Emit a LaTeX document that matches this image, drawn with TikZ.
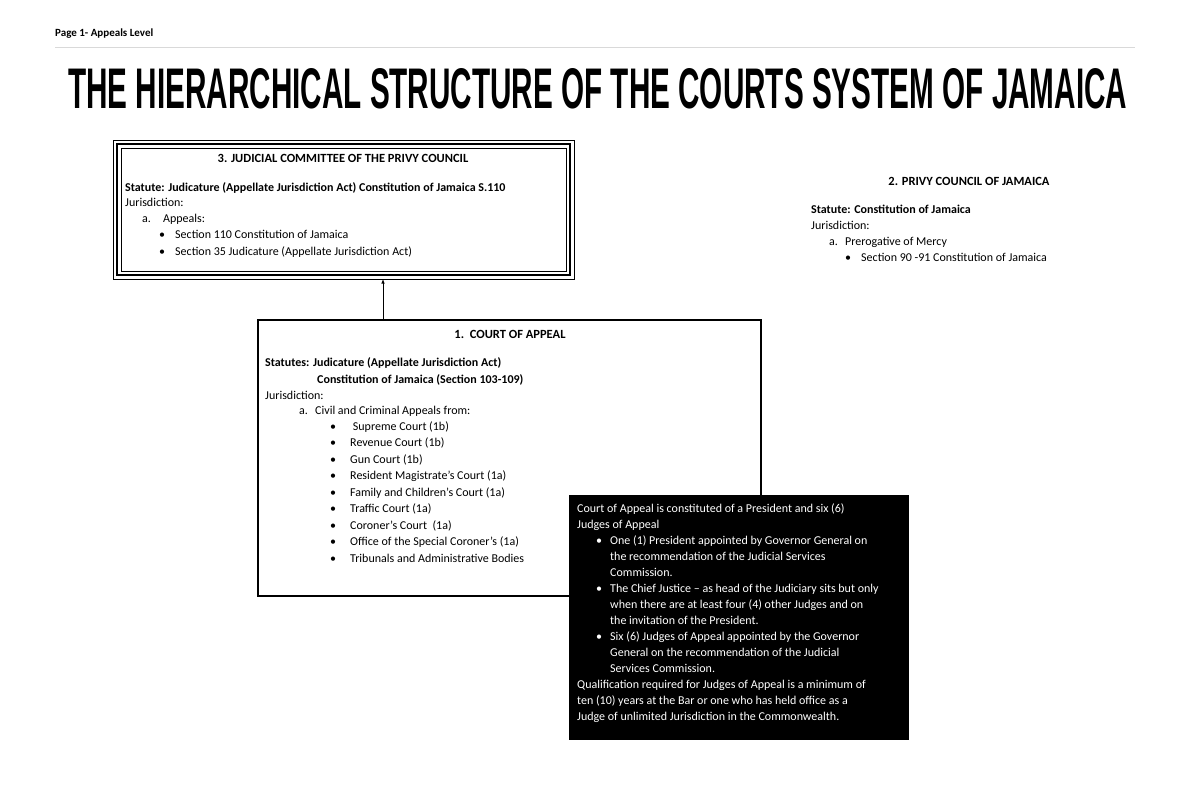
\documentclass[tikz,border=0pt]{standalone}
\usepackage{fontspec}
\setmainfont{Carlito}
\newfontfamily\titlefont{Liberation Sans}
\tikzset{txt/.style={anchor=base west,inner sep=0pt,font=\fontsize{12}{14}\selectfont},
 btxt/.style={txt,font=\fontsize{12}{14}\selectfont\bfseries},
 wtxt/.style={txt,text=white},
 boxe/.style={draw=black,line width=1.2pt}}
\newcommand\T[4][txt]{\node[#1] (#2) at #3 {#4};}
\begin{document}
\begin{tikzpicture}[x=1pt,y=-1pt]
\useasboundingbox (0,0) rectangle (1200,801);
\node[btxt,font=\fontsize{11}{13}\selectfont\bfseries] (hdr) at (55,36) {Page 1- Appeals Level};
\draw[gray!30] (55,47) -- (1135,47);
\node[anchor=base west,inner sep=0pt] (title) at (68,108) {\resizebox{1059pt}{40pt}{\titlefont\bfseries THE HIERARCHICAL STRUCTURE OF THE COURTS SYSTEM OF JAMAICA}};
% JCPC box
\draw[line width=0.8pt] (113,140) rectangle (574,279);
\draw[line width=2.4pt] (117,144) rectangle (570,275);
\draw[line width=0.8pt] (121,148) rectangle (566,271);
\coordinate (jcpcb) at (383,279);
\node[btxt,anchor=base] (jt) at (343,162) {\fontsize{12.5}{14}\selectfont 3. JUDICIAL COMMITTEE OF THE PRIVY COUNCIL};
\T[btxt]{j1}{(125,191)}{Statute: Judicature (Appellate Jurisdiction Act) Constitution of Jamaica S.110}
\T{j2}{(125,206)}{Jurisdiction:}
\T{j3}{(142,222)}{a.}
\T{j4}{(163,222)}{Appeals:}
\T{j5}{(159,238)}{\textbullet}
\T{j6}{(175,238)}{Section 110 Constitution of Jamaica}
\T{j7}{(159,255)}{\textbullet}
\T{j8}{(175,255)}{Section 35 Judicature (Appellate Jurisdiction Act)}
% Privy council of Jamaica
\node[btxt,anchor=base] (pt) at (969,185) {\fontsize{12.5}{14}\selectfont 2. PRIVY COUNCIL OF JAMAICA};
\T[btxt]{p1}{(811,213)}{Statute: Constitution of Jamaica}
\T{p2}{(811,229)}{Jurisdiction:}
\T{p3}{(829,245)}{a.}
\T{p4}{(845,245)}{Prerogative of Mercy}
\T{p5}{(845,261)}{\textbullet}
\T{p6}{(861,261)}{Section 90 -91 Constitution of Jamaica}
% Court of appeal
\draw[boxe] (258,320) rectangle (761,596);
\coordinate (caT) at (383,320);
\draw[-latex,line width=0.6pt] (caT) -- (jcpcb);
\node[btxt,anchor=base] (ct) at (510,338) {\fontsize{12.5}{14}\selectfont 1.\ \ COURT OF APPEAL};
\T[btxt]{c1}{(265,366)}{Statutes: Judicature (Appellate Jurisdiction Act)}
\T[btxt]{c2}{(317,383)}{Constitution of Jamaica (Section 103-109)}
\T{c3}{(265,399)}{Jurisdiction:}
\T{c4}{(299,414)}{a.}
\T{c5}{(315,414)}{Civil and Criminal Appeals from:}
\foreach \t [count=\i] in {\ Supreme Court (1b),Revenue Court (1b),Gun Court (1b),Resident Magistrate’s Court (1a),Family and Children’s Court (1a),Traffic Court (1a),Coroner’s Court\ \ (1a),Office of the Special Coroner’s (1a),Tribunals and Administrative Bodies}{
 \node[txt] (cb\i) at (330,{413.5+16.5*\i}) {\textbullet};
 \node[txt] (cl\i) at (350,{413.5+16.5*\i}) {\t};
}
% black box
\fill[black] (569,495) rectangle (909,740);
\node[draw=none,inner sep=0pt] (bb) at (739,617) {};
\T[wtxt]{b1}{(577,512)}{Court of Appeal is constituted of a President and six (6)}
\T[wtxt]{b2}{(577,528)}{Judges of Appeal}
\foreach \y in {544,592,640}{\node[wtxt] (bu\y) at (596,\y) {\textbullet};}
\foreach \t/\y [count=\i] in {One (1) President appointed by Governor General on/544,the recommendation of the Judicial Services/560,Commission./576,The Chief Justice – as head of the Judiciary sits but only/592,when there are at least four (4) other Judges and on/608,the invitation of the President./624,Six (6) Judges of Appeal appointed by the Governor/640,General on the recommendation of the Judicial/656,Services Commission./672}{
 \node[wtxt] (bl\i) at (610,\y) {\t};
}
\T[wtxt]{b3}{(577,688)}{Qualification required for Judges of Appeal is a minimum of}
\T[wtxt]{b4}{(577,704)}{ten (10) years at the Bar or one who has held office as a}
\T[wtxt]{b5}{(577,720)}{Judge of unlimited Jurisdiction in the Commonwealth.}
\end{tikzpicture}
\end{document}
